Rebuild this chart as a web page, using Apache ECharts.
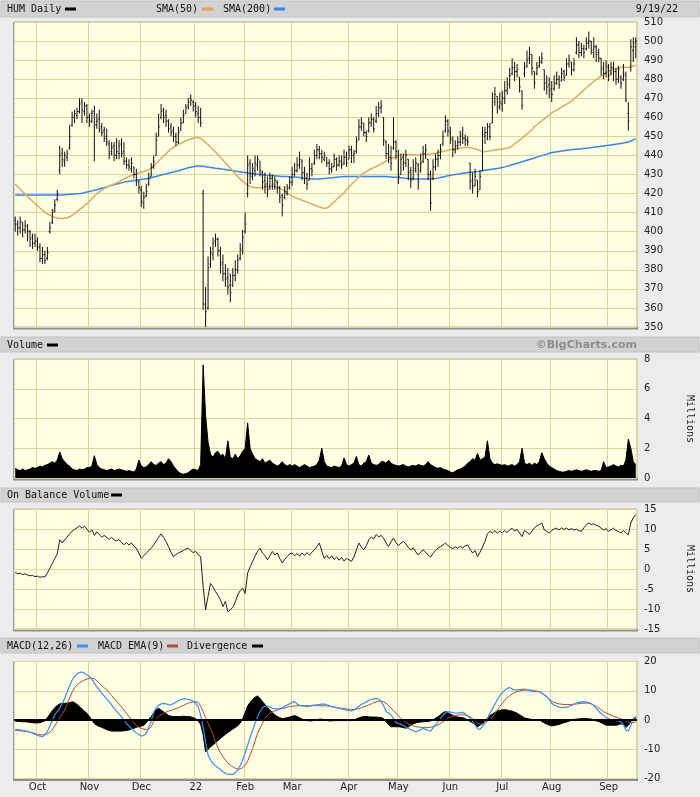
<!DOCTYPE html>
<html><head><meta charset="utf-8">
<script src="https://cdn.jsdelivr.net/npm/echarts/dist/echarts.min.js"></script>
<style>html,body{margin:0;padding:0;background:#ececec}#c{width:700px;height:797px}</style>
</head><body><div id="c"></div>
<script>
// ---- categories: trading days 2021-09-20 .. 2022-09-19 ----
const holidays = ['2021-11-25','2021-12-24','2022-01-17','2022-02-21','2022-04-15','2022-05-30','2022-06-20','2022-07-04','2022-09-05'];
const monthTickLabels = ['Oct','Nov','Dec','22','Feb','Mar','Apr','May','Jun','Jul','Aug','Sep'];
const priceTicks = {min:350, max:510, interval:10};
const volumeTicks = {min:0, max:8, interval:2};
const obvTicks = {min:-15, max:15, interval:5};
const macdTicks = {min:-20, max:20, interval:10};

// ---- price (OHLC) ----
const open = [
406,404,402,405,401,403,400,397,394,
395,392,386,388,386,400,405,411,417,432,441,437,439,444,456,460,461,463,468,463,466,
460,458,463,456,459,455,453,450,446,442,445,440,441,446,442,437,435,433,434,430,426,
422,415,419,425,429,434,440,450,460,464,461,458,455,453,450,447,453,457,462,466,470,468,
466,462,460,420,362,360,383,388,395,396,390,384,378,376,372,372,377,380,386,390,
400,420,436,429,432,435,437,431,427,425,423,428,424,426,423,419,418,420,423,
426,430,432,435,437,431,428,427,433,436,440,443,441,438,439,436,433,434,438,435,437,436,439,
438,443,440,442,448,455,457,452,453,457,459,458,462,465,460,447,441,439,444,447,
440,430,439,436,438,432,428,433,435,432,437,441,438,430,428,434,438,440,446,453,458,
452,448,443,445,447,451,449,448,436,427,424,427,422,432,450,452,455,457,468,471,466,
467,470,474,477,483,486,484,481,474,483,487,491,493,484,483,487,489,485,478,477,
475,475,478,480,479,484,482,488,489,485,494,498,494,496,496,499,500,494,497,494,491,486,483,
486,483,486,484,480,481,480,482,462,487,495,497];
const high = [
408,406,408,405,406,404,401,399,399,
397,394,392,390,392,405,412,417,422,445,444,442,443,456,463,464,465,470,470,468,467,
462,464,466,462,464,457,455,454,448,447,447,449,448,449,447,439,438,439,434,433,427,
424,421,425,431,436,440,452,462,467,465,464,459,457,455,452,455,460,464,467,470,472,469,
468,466,465,422,371,387,392,397,399,397,392,388,383,381,378,381,385,388,394,401,
410,440,438,436,440,440,437,432,431,429,431,430,429,427,424,420,424,425,429,
434,436,439,442,438,434,431,439,436,443,446,445,443,442,439,438,436,441,439,440,440,443,442,
445,445,443,450,459,460,457,453,460,462,460,466,468,469,460,448,446,445,460,448,
443,441,441,443,438,434,438,439,436,441,445,446,438,432,438,441,443,446,453,461,459,
455,450,448,450,453,455,451,450,436,431,433,427,432,455,455,457,457,473,476,471,473,
474,479,481,486,491,489,488,481,474,489,495,497,493,484,489,492,494,485,482,481,
479,482,484,482,486,485,491,493,489,491,502,500,499,498,502,505,500,502,498,496,491,489,490,
488,489,489,486,487,482,488,484,468,501,502,502];
const low = [
400,398,399,397,399,395,392,391,392,
390,384,383,383,385,399,404,410,416,430,434,434,437,443,455,457,459,462,457,461,457,
455,457,437,454,452,450,447,445,438,440,437,438,438,439,435,433,432,431,428,424,420,
413,412,418,424,429,433,440,450,459,457,455,452,450,447,445,446,453,457,462,464,466,463,
460,457,455,359,350,359,381,385,392,387,378,374,371,367,363,371,374,378,385,388,
399,418,425,427,429,432,429,422,420,418,422,422,422,420,415,408,417,419,422,
424,429,431,433,427,425,422,427,429,435,438,438,436,437,434,430,431,434,432,434,433,435,434,
438,436,436,441,448,453,450,447,452,455,452,457,460,462,445,438,436,432,443,438,
425,430,432,434,427,423,427,431,422,431,436,438,427,411,427,432,434,438,445,452,450,
446,439,441,443,445,446,445,445,422,420,424,418,422,432,446,448,448,457,466,462,464,
463,467,472,475,482,479,481,473,464,481,486,488,482,475,482,486,488,474,472,470,
468,474,477,475,479,479,482,486,482,484,493,491,492,491,495,496,493,491,489,489,482,480,481,
479,482,479,477,478,475,479,468,453,484,489,491];
const close = [
404,402,405,401,403,400,396,394,395,
392,386,388,385,389,402,410,414,420,440,438,440,441,450,460,462,463,467,464,466,460,
458,462,456,458,454,452,449,447,441,444,440,442,445,441,437,435,434,436,430,427,423,
416,418,421,428,434,437,448,455,463,460,458,454,452,450,447,452,457,461,465,468,469,466,
463,460,457,362,358,381,389,394,396,390,383,378,375,371,368,377,380,385,391,397,
404,435,430,433,436,438,432,426,424,422,428,425,427,423,418,414,421,423,426,
430,432,435,438,431,428,425,433,432,440,443,441,439,440,436,433,434,438,435,437,435,439,436,
443,440,441,447,455,457,452,450,457,459,454,462,465,466,448,441,439,436,447,442,
429,438,436,440,431,427,432,436,426,436,441,443,430,415,434,438,440,443,450,458,453,
449,443,445,447,450,449,448,447,426,424,429,421,429,451,452,455,450,470,472,465,468,
470,474,478,482,486,484,485,476,466,486,490,493,486,478,486,489,491,478,476,474,
472,478,480,477,483,481,488,490,485,488,498,494,496,494,499,500,495,497,493,491,485,483,487,
482,486,484,480,485,478,483,469,458,497,499,500];
const sma50 = [
425.0,423.6,422.3,421.0,419.7,418.5,417.2,416.0,414.8,
413.6,412.4,411.3,410.3,409.4,408.6,408.0,407.5,407.2,407.0,406.9,407.0,407.3,407.8,408.6,409.5,410.5,411.6,412.6,413.7,414.7,
416.0,417.3,418.6,419.8,420.9,421.8,422.6,423.3,423.9,424.5,425.0,425.6,426.3,427.0,427.7,428.3,428.9,429.5,430.0,430.4,430.8,
431.2,431.6,432.0,432.5,433.3,434.5,435.8,437.1,438.4,439.7,441.0,442.3,443.3,444.2,445.0,445.8,446.5,447.1,447.7,448.2,448.6,449.0,
449.3,449.4,449.0,448.0,446.8,445.6,444.4,443.1,441.8,440.4,439.0,437.6,436.2,434.8,433.3,431.8,430.4,429.0,427.7,426.4,
425.4,424.4,423.6,423.2,423.0,423.0,423.1,423.2,423.4,423.6,423.8,423.9,423.7,423.2,422.7,422.2,421.4,420.4,419.4,
418.7,418.1,417.5,417.0,416.5,416.0,415.5,415.0,414.5,414.0,413.5,413.0,412.6,412.3,412.4,413.3,414.5,415.7,416.9,418.1,419.2,420.4,421.9,
423.4,424.8,426.1,427.4,428.6,429.8,430.7,431.5,432.3,433.0,433.6,434.2,434.9,435.6,436.3,437.0,437.7,438.3,438.8,439.3,
439.8,440.2,440.4,440.5,440.5,440.4,440.3,440.2,440.2,440.2,440.3,440.4,440.6,440.8,441.0,441.2,441.5,441.8,442.1,442.4,442.7,
443.0,443.2,443.4,443.6,443.8,444.0,444.1,444.2,444.1,443.8,443.4,443.0,442.5,442.0,442.0,442.2,442.4,442.6,442.8,443.0,443.2,
443.4,443.6,443.8,444.2,445.0,446.0,447.0,448.0,449.0,450.1,451.2,452.4,453.6,455.0,456.1,457.2,458.2,459.2,460.3,461.3,
462.3,463.1,463.8,464.5,465.3,466.1,466.9,467.6,468.5,469.6,470.8,471.9,473.1,474.3,475.5,476.6,477.7,478.8,479.8,480.7,481.6,482.5,483.4,
484.2,484.7,485.1,485.5,485.9,486.2,486.3,486.2,486.0,486.4,486.9,487.4];
const sma200 = [
419.2,419.2,419.2,419.2,419.2,419.2,419.2,419.2,419.2,
419.2,419.2,419.2,419.2,419.2,419.2,419.2,419.2,419.2,419.3,419.3,419.4,419.5,419.6,419.7,419.8,419.9,420.0,420.2,420.5,420.8,
421.1,421.4,421.7,422.0,422.4,422.8,423.1,423.5,423.9,424.3,424.6,425.0,425.3,425.6,426.0,426.2,426.4,426.6,426.8,427.0,427.2,
427.4,427.6,427.8,428.0,428.3,428.7,429.0,429.3,429.7,430.0,430.3,430.7,431.0,431.3,431.7,432.0,432.4,432.8,433.1,433.5,433.8,434.1,
434.3,434.4,434.5,434.3,434.1,433.9,433.7,433.5,433.3,433.2,433.0,432.8,432.6,432.4,432.2,432.0,431.8,431.6,431.4,431.2,
431.0,430.8,430.7,430.5,430.3,430.2,430.0,429.9,429.8,429.6,429.5,429.4,429.3,429.2,429.1,429.0,429.0,428.9,428.8,
428.7,428.6,428.5,428.4,428.2,428.0,427.9,427.8,427.7,427.6,427.6,427.7,427.8,427.9,428.0,428.2,428.3,428.4,428.6,428.7,428.8,428.9,429.0,
429.0,429.0,429.0,429.0,429.0,429.0,429.0,429.0,429.0,429.0,429.0,429.0,429.0,429.0,428.9,428.9,428.8,428.7,428.6,428.5,
428.4,428.3,428.2,428.0,427.9,427.8,427.7,427.7,427.7,427.7,427.7,427.7,427.7,427.7,427.8,427.9,428.1,428.4,428.7,429.0,429.3,
429.6,429.8,430.0,430.2,430.4,430.6,430.8,431.0,431.2,431.3,431.5,431.6,431.8,432.0,432.2,432.4,432.6,432.8,433.0,433.2,433.4,
433.7,434.0,434.4,434.7,435.1,435.5,435.9,436.3,436.7,437.1,437.5,437.9,438.3,438.7,439.1,439.5,439.9,440.3,440.7,441.1,
441.5,441.7,441.9,442.1,442.3,442.5,442.7,442.9,443.0,443.2,443.3,443.4,443.5,443.7,443.8,443.9,444.1,444.3,444.5,444.6,444.8,445.0,445.2,
445.3,445.5,445.7,445.9,446.1,446.3,446.5,446.8,447.1,447.6,448.2,448.8];

// ---- volume (millions) ----
const volume = [
0.65,0.55,0.5,0.6,0.5,0.55,0.6,0.7,0.65,
0.7,0.8,0.75,0.85,0.9,1.0,1.1,1.0,1.2,1.75,1.3,1.1,0.9,0.8,0.6,0.55,0.5,0.6,0.55,0.6,0.7,
0.7,0.8,1.5,0.9,0.7,0.6,0.55,0.5,0.55,0.6,0.5,0.55,0.6,0.55,0.5,0.45,0.5,0.45,0.4,0.6,1.2,
0.8,0.7,0.75,0.9,1.1,0.9,0.85,1.0,1.1,0.9,1.0,1.3,1.1,0.8,0.6,0.4,0.3,0.25,0.3,0.35,0.5,0.6,
0.55,0.5,0.9,7.6,4.2,2.4,1.6,1.4,1.7,1.8,1.5,1.6,1.3,2.5,1.4,1.3,1.6,1.3,1.5,1.8,
2.0,3.7,2.0,1.6,1.3,1.2,1.1,1.3,1.0,1.1,1.2,1.0,0.9,0.8,0.9,1.1,0.9,0.8,0.9,
0.8,0.9,0.8,0.7,0.8,0.9,0.8,0.7,0.75,0.8,0.9,1.2,2.0,1.1,0.8,0.75,0.7,0.8,0.75,0.7,0.8,1.35,0.9,
0.8,0.9,1.0,1.45,0.9,0.8,1.0,1.1,1.55,1.0,0.9,0.85,0.9,1.1,1.1,1.0,1.2,1.0,0.9,0.85,
0.8,0.85,0.9,0.8,0.75,0.8,0.85,0.8,0.9,0.85,0.8,0.9,1.1,0.9,0.8,0.7,0.65,0.7,0.6,0.55,0.5,
0.4,0.35,0.45,0.55,0.6,0.7,0.8,1.0,1.1,1.3,1.2,1.65,1.2,1.3,1.4,2.5,1.3,1.0,0.9,0.95,0.9,
0.85,0.9,0.8,0.85,0.9,0.8,0.9,1.1,2.0,1.0,0.9,1.0,0.85,1.0,0.9,1.1,1.7,1.3,1.0,0.8,
0.7,0.6,0.5,0.45,0.4,0.4,0.45,0.5,0.45,0.5,0.55,0.5,0.45,0.5,0.55,0.5,0.45,0.5,0.5,0.45,0.5,1.1,0.7,
0.75,0.8,0.9,0.8,0.75,0.85,0.8,1.2,2.6,2.0,1.1,0.9];

// ---- on balance volume (millions) ----
const obv = [
-0.8,-1.2,-1.0,-1.4,-1.2,-1.5,-1.7,-1.6,-1.9,
-1.8,-2.1,-1.9,-2.0,-1.0,0.2,1.4,2.6,3.8,7.3,6.5,7.3,8.0,8.8,9.4,9.9,10.3,10.8,10.2,10.7,10.0,
9.2,9.8,8.4,9.3,8.6,8.0,8.4,7.9,7.4,7.9,7.3,7.0,7.4,6.6,6.1,6.6,6.0,6.5,5.7,5.2,4.0,
2.7,3.3,4.0,4.6,5.2,6.0,7.0,7.9,8.8,7.9,6.9,5.6,4.2,3.1,3.6,4.0,4.3,4.6,5.0,5.2,4.6,4.1,
4.4,3.6,3.1,-4.3,-10.2,-6.8,-3.6,-4.5,-5.6,-6.6,-7.7,-9.4,-8.1,-10.7,-10.2,-9.6,-8.2,-6.5,-5.4,-4.8,
-6.1,-1.0,0.5,1.9,3.2,4.4,5.2,4.0,3.4,2.3,3.3,4.4,3.5,4.0,2.6,1.5,2.4,3.1,3.8,
4.0,3.3,3.9,3.2,4.0,3.4,4.1,3.5,4.2,4.8,5.6,6.5,4.5,2.6,3.4,2.6,3.3,2.4,3.0,2.2,2.9,2.0,2.6,
2.3,1.9,3.0,4.8,6.5,5.5,4.8,5.8,7.3,8.0,7.5,8.6,8.0,8.4,7.7,6.5,5.6,6.8,7.7,6.6,
5.8,6.5,6.9,6.3,5.4,4.8,5.3,4.3,3.5,4.2,4.8,4.2,3.5,3.0,3.9,4.6,5.2,5.6,6.0,6.5,5.9,
5.4,5.1,5.5,5.2,5.7,5.3,5.8,6.0,4.9,4.0,4.6,3.1,4.2,5.5,6.9,8.8,9.4,9.0,9.6,8.9,9.5,
9.0,9.6,9.1,9.8,10.2,9.5,9.9,9.0,8.1,9.6,9.2,8.6,9.5,10.3,10.8,11.1,11.5,9.8,9.4,9.0,
9.6,10.0,10.2,9.8,10.3,9.9,10.2,9.8,10.1,9.7,10.0,9.6,9.4,10.3,11.0,11.5,11.1,11.3,10.9,10.7,10.2,9.8,10.1,
9.4,9.8,10.2,9.6,9.4,9.0,9.6,9.0,8.6,11.5,12.8,13.6];

// ---- MACD(12,26), EMA(9), divergence ----
const macd = [
-3.2,-3.3,-3.4,-3.6,-3.7,-3.9,-4.2,-4.5,-4.9,
-5.2,-5.5,-5.7,-5.0,-3.9,-2.0,-0.2,1.7,2.9,4.0,5.6,7.4,9.6,11.8,13.6,14.9,15.7,16.3,16.4,16.0,15.5,
14.9,13.9,12.6,11.4,10.3,9.1,8.2,7.2,6.3,5.2,4.0,3.0,2.0,1.1,0.0,-1.2,-2.1,-2.9,-3.7,-4.4,-5.0,
-5.5,-5.2,-4.6,-2.6,-0.4,2.6,4.2,5.0,5.5,5.7,5.5,5.2,5.2,5.6,6.1,6.6,7.0,7.2,7.2,7.0,6.8,6.4,
5.7,4.5,1.7,-2.5,-7.5,-12.0,-13.6,-14.9,-15.6,-16.3,-16.9,-17.6,-18.3,-18.5,-18.6,-18.6,-18.0,-17.1,-15.6,-13.7,
-11.2,-8.6,-6.0,-3.5,-1.1,1.0,2.8,4.2,4.7,4.8,4.4,4.0,3.9,3.8,3.8,4.2,4.7,5.1,5.5,
6.1,6.3,5.5,5.0,4.8,4.7,4.6,4.7,4.9,5.1,5.2,5.3,5.4,5.4,5.2,4.9,4.6,4.4,4.2,4.0,3.8,3.6,3.4,
3.2,3.1,3.4,4.0,4.7,5.3,5.7,6.2,6.7,7.0,7.2,7.4,7.1,6.3,4.9,2.9,2.3,1.7,0.5,-0.8,
-1.2,-1.5,-1.9,-2.4,-2.9,-3.3,-3.7,-4.0,-3.7,-3.3,-2.9,-3.2,-3.6,-3.8,-2.7,-1.7,-0.6,0.5,1.7,2.4,2.9,
2.7,2.5,2.3,2.4,2.5,2.6,2.2,1.4,0.6,-0.5,-1.7,-3.0,-3.2,-2.2,-0.9,0.6,2.3,3.8,5.4,6.9,8.3,
9.3,10.2,10.8,11.1,10.6,10.3,10.3,10.4,10.5,10.6,10.3,10.0,9.8,9.7,9.7,9.7,9.2,8.6,8.0,7.0,
5.7,5.1,4.8,4.4,4.2,4.3,4.4,4.6,5.0,5.4,5.8,6.0,6.2,6.3,6.2,5.9,5.7,4.9,4.0,3.0,2.2,1.5,0.8,
0.4,0.0,-0.1,-0.2,-0.3,-0.6,-1.5,-3.5,-3.8,-1.8,0.3,1.1];
const signal = [
-3.5,-3.6,-3.7,-3.8,-3.9,-4.0,-4.2,-4.4,-4.6,
-4.9,-5.0,-5.1,-5.0,-4.7,-4.2,-3.4,-2.0,-0.6,0.8,2.1,3.4,5.4,7.6,9.5,11.0,12.0,12.7,13.2,13.7,14.0,
14.2,14.3,14.1,13.4,12.6,11.8,11.0,10.3,9.4,8.4,7.3,6.4,5.4,4.4,3.4,2.3,1.2,0.0,-1.0,-1.8,-2.5,
-2.9,-3.1,-3.2,-3.1,-2.3,-0.5,0.5,1.2,1.8,2.3,2.7,3.0,3.3,3.6,3.9,4.2,4.6,5.0,5.4,5.8,6.0,6.2,
6.3,6.0,4.8,2.9,0.8,-1.1,-2.9,-5.0,-7.4,-9.5,-11.2,-12.6,-13.7,-14.7,-15.4,-16.0,-16.5,-16.8,-16.7,-16.3,
-15.5,-14.0,-11.9,-9.8,-7.2,-4.6,-2.8,-1.2,0.5,1.6,2.3,2.8,3.1,3.4,3.7,3.9,4.1,4.4,4.6,
4.7,4.8,4.9,4.9,4.9,4.9,4.9,4.9,4.9,4.9,4.9,4.9,4.9,4.9,4.8,4.7,4.6,4.5,4.2,4.1,4.0,3.9,3.8,
3.7,3.6,3.6,3.7,3.9,4.2,4.5,4.8,5.1,5.5,5.9,6.2,6.4,6.5,6.2,5.7,4.9,4.1,3.2,2.3,
1.4,0.5,-0.2,-0.8,-1.3,-1.7,-2.0,-2.3,-2.4,-2.5,-2.6,-2.6,-2.6,-2.5,-2.3,-2.0,-1.7,-1.2,-0.6,0.0,0.6,
1.0,1.3,1.5,1.7,1.8,1.8,1.7,1.4,1.1,0.5,-0.3,-1.0,-1.5,-1.4,-1.0,-0.5,0.0,1.0,2.2,3.4,4.6,
5.7,6.8,7.7,8.3,8.9,9.4,9.7,9.9,10.1,10.2,10.3,10.3,10.2,10.0,9.9,9.7,9.2,8.6,7.9,7.1,
6.5,6.0,5.7,5.5,5.4,5.3,5.3,5.3,5.3,5.4,5.5,5.6,5.7,5.7,5.8,5.7,5.5,5.1,4.6,4.1,3.5,2.9,2.4,
2.0,1.7,1.3,1.0,0.7,0.4,0.1,-0.4,-0.8,-1.0,-0.9,-0.7];
const divergence = [
-0.4,-0.5,-0.5,-0.6,-0.6,-0.7,-0.8,-0.9,-1.0,
-1.0,-0.9,-0.6,-0.3,0.8,2.0,3.2,4.2,5.0,5.5,5.7,5.7,5.8,5.9,6.2,6.0,5.3,4.6,3.8,3.0,2.3,
1.2,0.0,-1.2,-1.8,-2.2,-2.5,-2.9,-3.3,-3.6,-3.8,-3.8,-3.8,-3.8,-3.8,-3.7,-3.6,-3.4,-3.1,-2.8,-2.5,-2.2,
-2.1,-1.8,-1.0,0.2,1.2,2.5,3.5,4.0,3.4,2.8,2.2,1.6,1.3,1.2,1.2,1.2,1.2,1.3,1.2,1.2,1.1,0.8,
0.5,-0.3,-1.5,-5.0,-10.9,-10.0,-9.2,-8.5,-7.8,-7.0,-6.3,-5.6,-4.9,-4.3,-3.7,-3.1,-2.6,-2.0,-1.0,0.5,
2.5,4.8,6.0,7.0,7.8,8.2,7.4,6.3,5.3,4.3,3.4,2.5,1.8,1.2,0.8,0.5,0.6,0.8,1.0,
1.3,1.5,1.2,0.8,0.3,0.0,-0.2,-0.3,-0.3,-0.1,0.1,0.3,0.3,0.1,-0.1,-0.3,-0.3,-0.2,-0.2,-0.2,-0.2,-0.2,-0.2,
-0.2,-0.2,0.0,0.4,0.7,1.0,1.2,1.2,1.1,1.0,1.0,1.0,0.9,0.8,0.5,-0.6,-1.6,-2.3,-2.3,-2.3,
-2.3,-2.4,-2.6,-2.8,-2.4,-1.7,-1.3,-1.0,-0.8,-0.7,-0.6,-0.5,-0.5,-0.3,0.1,0.6,1.1,1.8,2.5,2.9,2.5,
2.0,1.6,1.2,1.0,0.9,0.8,0.5,0.0,-0.5,-1.0,-1.7,-2.3,-1.8,-1.2,-0.2,0.7,1.5,2.0,2.6,3.1,3.3,
3.5,3.5,3.4,3.2,3.0,2.7,2.3,1.8,1.3,0.7,0.5,0.3,0.2,0.0,0.0,0.0,-0.5,-1.0,-1.4,-1.8,
-2.0,-1.9,-1.7,-1.5,-1.2,-0.9,-0.7,-0.4,-0.1,0.2,0.3,0.4,0.5,0.5,0.5,0.4,0.3,0.0,-0.3,-0.5,-0.9,-1.4,-1.8,
-1.8,-1.8,-1.8,-1.8,-1.6,-1.3,-1.6,-2.5,-1.8,-0.5,0.5,1.0];

// ---- build categories ----
const dates = [];
for (let d = new Date(Date.UTC(2021, 8, 20)); d <= new Date(Date.UTC(2022, 8, 19)); d.setUTCDate(d.getUTCDate() + 1)) {
  const wd = d.getUTCDay();
  if (wd === 0 || wd === 6) continue;
  const s = d.toISOString().slice(0, 10);
  if (holidays.includes(s)) continue;
  dates.push(s);
}
const isMonthStart = i => i > 0 && dates[i].slice(5, 7) !== dates[i - 1].slice(5, 7);
const monthLabelOf = {};
let mi = 0;
dates.forEach((d, i) => { if (isMonthStart(i)) monthLabelOf[i] = monthTickLabels[mi++]; });

const GRID = '#d8d5a0';
const FONT = 'DejaVu Sans';
const MONO = 'DejaVu Sans Mono';
const L = 14, W = 623;
const panels = [
  {top: 22, height: 305},
  {top: 359, height: 119},
  {top: 509, height: 120},
  {top: 661.5, height: 117}
];

const grids = panels.map(p => ({left: L, top: p.top, width: W, height: p.height, show: true,
  backgroundColor: '#fefee3', borderColor: '#b5b5a0', borderWidth: 1}));

const xAxes = panels.map((p, gi) => ({
  type: 'category', gridIndex: gi, data: dates, boundaryGap: true,
  axisLine: {show: false}, axisTick: {show: false},
  splitLine: {show: true, interval: (i) => isMonthStart(i), lineStyle: {color: GRID, width: 1}},
  axisLabel: gi === 3 ? {
    show: true, interval: (i) => isMonthStart(i), formatter: (v, i) => monthLabelOf[i] || '',
    fontFamily: FONT, fontSize: 10, color: '#222', margin: 4
  } : {show: false}
}));

function yAx(gi, t) {
  return {type: 'value', gridIndex: gi, position: 'right', min: t.min, max: t.max, interval: t.interval,
    axisLine: {show: false}, axisTick: {show: false},
    splitLine: {show: true, lineStyle: {color: GRID, width: 1}},
    axisLabel: {fontFamily: FONT, fontSize: 10, color: '#222', margin: 7}};
}
const yAxes = [yAx(0, priceTicks), yAx(1, volumeTicks), yAx(2, obvTicks), yAx(3, macdTicks)];

const ohlcData = dates.map((d, i) => [i, open[i], close[i], low[i], high[i]]);

const series = [
  {type: 'line', name: 'SMA(200)', xAxisIndex: 0, yAxisIndex: 0, data: sma200, showSymbol: false,
   lineStyle: {color: '#3b84e8', width: 1.5}, z: 3},
  {type: 'line', name: 'SMA(50)', xAxisIndex: 0, yAxisIndex: 0, data: sma50, showSymbol: false,
   lineStyle: {color: '#dcab62', width: 1.5}, z: 3},
  {type: 'custom', name: 'HUM', xAxisIndex: 0, yAxisIndex: 0, data: ohlcData, z: 4,
   encode: {x: 0, y: [1, 2, 3, 4]},
   renderItem: function (params, api) {
     const x = api.value(0);
     const o = api.coord([x, api.value(1)]);
     const c = api.coord([x, api.value(2)]);
     const lo = api.coord([x, api.value(3)]);
     const hi = api.coord([x, api.value(4)]);
     const w = api.size([1, 0])[0];
     const cx = o[0];
     const t = Math.max(1, w * 0.45);
     const st = {stroke: '#111', lineWidth: 1};
     return {type: 'group', children: [
       {type: 'line', shape: {x1: cx, y1: hi[1], x2: cx, y2: lo[1]}, style: st},
       {type: 'line', shape: {x1: cx - t, y1: o[1], x2: cx, y2: o[1]}, style: st},
       {type: 'line', shape: {x1: cx, y1: c[1], x2: cx + t, y2: c[1]}, style: st}
     ]};
   }},
  {type: 'line', name: 'Volume', xAxisIndex: 1, yAxisIndex: 1, data: volume, showSymbol: false,
   lineStyle: {color: '#000', width: 1}, areaStyle: {color: '#000', opacity: 1}},
  {type: 'line', name: 'OBV', xAxisIndex: 2, yAxisIndex: 2, data: obv, showSymbol: false,
   lineStyle: {color: '#222', width: 1}},
  {type: 'line', name: 'Divergence', xAxisIndex: 3, yAxisIndex: 3, data: divergence, showSymbol: false,
   lineStyle: {color: '#000', width: 1}, areaStyle: {color: '#000', opacity: 1},
   markLine: {silent: true, symbol: 'none', label: {show: false},
     lineStyle: {color: '#000', width: 2, type: 'solid'}, data: [{yAxis: 0}]}},
  {type: 'line', name: 'MACD EMA(9)', xAxisIndex: 3, yAxisIndex: 3, data: signal, showSymbol: false,
   lineStyle: {color: '#b5493c', width: 1}},
  {type: 'line', name: 'MACD(12,26)', xAxisIndex: 3, yAxisIndex: 3, data: macd, showSymbol: false,
   lineStyle: {color: '#3d8ef0', width: 1.2}}
];

// ---- header bars & decorations ----
const g = [];
function header(y, h) {
  g.push({type: 'rect', shape: {x: 1, y: y, width: 698, height: h}, style: {fill: '#d2d2d2', stroke: '#c2c2c2', lineWidth: 1}});
}
function txt(x, y, s, extra) {
  g.push({type: 'text', x: x, y: y, style: Object.assign({text: s, font: '10px "' + MONO + '"', fill: '#111', verticalAlign: 'middle'}, extra || {})});
}
function dash(x, y, color) {
  g.push({type: 'rect', shape: {x: x, y: y - 1.5, width: 11, height: 3}, style: {fill: color}});
}
header(1, 16);
txt(7, 9, 'HUM Daily'); dash(65, 9, '#000');
txt(156, 9, 'SMA(50)'); dash(202, 9, '#d9a556');
txt(223, 9, 'SMA(200)'); dash(274, 9, '#3b84e8');
txt(678, 9, '9/19/22', {align: 'right'});
header(337, 15);
txt(7, 345, 'Volume'); dash(47, 345, '#000');
g.push({type: 'text', x: 637, y: 345, style: {text: '\u00A9BigCharts.com', font: 'bold 11px "' + FONT + '"', fill: '#8c8c8c', align: 'right', verticalAlign: 'middle'}});
header(488, 14);
txt(7, 495, 'On Balance Volume'); dash(111, 495, '#000');
header(638, 15);
txt(7, 646, 'MACD(12,26)'); dash(77, 646, '#3d8ef0');
txt(98, 646, 'MACD EMA(9)'); dash(167, 646, '#b5493c');
txt(187, 646, 'Divergence'); dash(252, 646, '#000');
function vtext(x, y, s) {
  g.push({type: 'text', x: x, y: y, rotation: -Math.PI / 2,
    style: {text: s, font: '10px "' + MONO + '"', fill: '#222', align: 'center', verticalAlign: 'middle'}});
}
vtext(690, 419, 'Millions');
vtext(690, 569, 'Millions');
panels.forEach(p => {
  const b = p.top + p.height;
  g.push({type: 'line', shape: {x1: L - 1, y1: b + 1.5, x2: L + W + 1, y2: b + 1.5}, style: {stroke: '#8e8e8e', lineWidth: 2}});
  g.push({type: 'line', shape: {x1: L - 0.5, y1: p.top, x2: L - 0.5, y2: b + 1}, style: {stroke: '#9c9c9c', lineWidth: 1}});
  g.push({type: 'line', shape: {x1: L + W + 0.5, y1: p.top, x2: L + W + 0.5, y2: b + 1}, style: {stroke: '#6a6a8a', lineWidth: 1}});
});

const chart = echarts.init(document.getElementById('c'), null, {renderer: 'canvas'});
chart.setOption({
  animation: false,
  backgroundColor: '#ececec',
  grid: grids,
  xAxis: xAxes,
  yAxis: yAxes,
  series: series,
  graphic: g
});
</script>
</body></html>
